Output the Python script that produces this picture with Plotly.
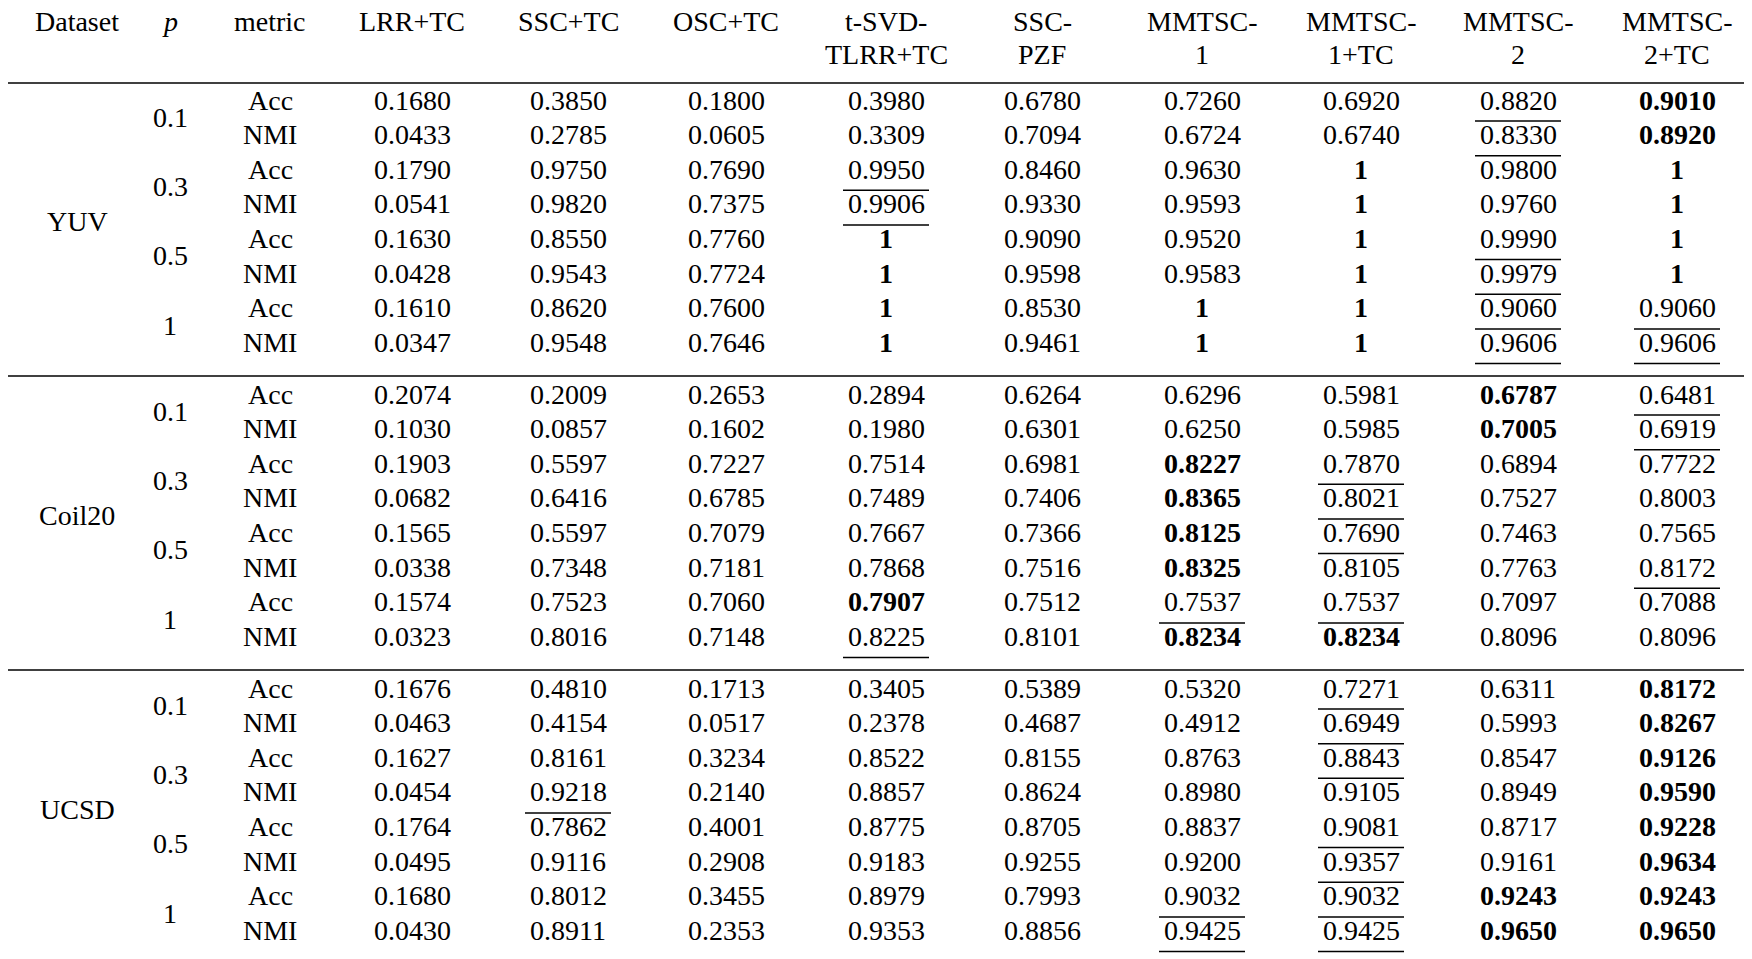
import plotly.graph_objects as go

methods = ["LRR+TC", "SSC+TC", "OSC+TC", "t-SVD-<br>TLRR+TC", "SSC-<br>PZF", "MMTSC-<br>1", "MMTSC-<br>1+TC", "MMTSC-<br>2", "MMTSC-<br>2+TC"]
datasets = ["YUV", "Coil20", "UCSD"]
p_values = ["0.1", "0.3", "0.5", "1"]
metrics = ["Acc", "NMI"]

yuv = [
    [0.1680, 0.3850, 0.1800, 0.3980, 0.6780, 0.7260, 0.6920, 0.8820, 0.9010],
    [0.0433, 0.2785, 0.0605, 0.3309, 0.7094, 0.6724, 0.6740, 0.8330, 0.8920],
    [0.1790, 0.9750, 0.7690, 0.9950, 0.8460, 0.9630, 1, 0.9800, 1],
    [0.0541, 0.9820, 0.7375, 0.9906, 0.9330, 0.9593, 1, 0.9760, 1],
    [0.1630, 0.8550, 0.7760, 1, 0.9090, 0.9520, 1, 0.9990, 1],
    [0.0428, 0.9543, 0.7724, 1, 0.9598, 0.9583, 1, 0.9979, 1],
    [0.1610, 0.8620, 0.7600, 1, 0.8530, 1, 1, 0.9060, 0.9060],
    [0.0347, 0.9548, 0.7646, 1, 0.9461, 1, 1, 0.9606, 0.9606],
]
coil20 = [
    [0.2074, 0.2009, 0.2653, 0.2894, 0.6264, 0.6296, 0.5981, 0.6787, 0.6481],
    [0.1030, 0.0857, 0.1602, 0.1980, 0.6301, 0.6250, 0.5985, 0.7005, 0.6919],
    [0.1903, 0.5597, 0.7227, 0.7514, 0.6981, 0.8227, 0.7870, 0.6894, 0.7722],
    [0.0682, 0.6416, 0.6785, 0.7489, 0.7406, 0.8365, 0.8021, 0.7527, 0.8003],
    [0.1565, 0.5597, 0.7079, 0.7667, 0.7366, 0.8125, 0.7690, 0.7463, 0.7565],
    [0.0338, 0.7348, 0.7181, 0.7868, 0.7516, 0.8325, 0.8105, 0.7763, 0.8172],
    [0.1574, 0.7523, 0.7060, 0.7907, 0.7512, 0.7537, 0.7537, 0.7097, 0.7088],
    [0.0323, 0.8016, 0.7148, 0.8225, 0.8101, 0.8234, 0.8234, 0.8096, 0.8096],
]
ucsd = [
    [0.1676, 0.4810, 0.1713, 0.3405, 0.5389, 0.5320, 0.7271, 0.6311, 0.8172],
    [0.0463, 0.4154, 0.0517, 0.2378, 0.4687, 0.4912, 0.6949, 0.5993, 0.8267],
    [0.1627, 0.8161, 0.3234, 0.8522, 0.8155, 0.8763, 0.8843, 0.8547, 0.9126],
    [0.0454, 0.9218, 0.2140, 0.8857, 0.8624, 0.8980, 0.9105, 0.8949, 0.9590],
    [0.1764, 0.7862, 0.4001, 0.8775, 0.8705, 0.8837, 0.9081, 0.8717, 0.9228],
    [0.0495, 0.9116, 0.2908, 0.9183, 0.9255, 0.9200, 0.9357, 0.9161, 0.9634],
    [0.1680, 0.8012, 0.3455, 0.8979, 0.7993, 0.9032, 0.9032, 0.9243, 0.9243],
    [0.0430, 0.8911, 0.2353, 0.9353, 0.8856, 0.9425, 0.9425, 0.9650, 0.9650],
]
# marks: b = best (bold), u = second best (underlined)
yuv_marks = [
    "-------ub", "-------ub", "---u--b-b", "---u--b-b",
    "---b--bub", "---b--bub", "---b-bbuu", "---b-bbuu",
]
coil20_marks = [
    "-------bu", "-------bu", "-----bu--", "-----bu--",
    "-----bu--", "-----b--u", "---b-uu--", "---u-bb--",
]
ucsd_marks = [
    "------u-b", "------u-b", "------u-b", "-u------b",
    "------u-b", "------u-b", "-----uubb", "-----uubb",
]

tables = [yuv, coil20, ucsd]
marks = [yuv_marks, coil20_marks, ucsd_marks]

W, H = 1752, 959
FONT = "Liberation Serif, Times New Roman, DejaVu Serif, serif"
FS = 28
col_x = [69, 162, 262, 404, 560, 718, 878, 1034, 1194, 1353, 1510, 1669]
drow = 34.65
rules = [(75, 1.6), (368, 1.6), (662, 1.6), (954, 3.2)]
DY = -6

fig = go.Figure()
ann = []
shapes = []

def txt(x, y, s, bold=False):
    ann.append(dict(x=x, y=y + DY, text=("<b>%s</b>" % s) if bold else s, showarrow=False,
                    xanchor="center", yanchor="middle",
                    font=dict(family=FONT, size=FS, color="black")))

heads = ["Dataset", "<i>p</i>", "metric"] + methods
for i, h in enumerate(heads):
    if "<br>" in h:
        a, b = h.split("<br>")
        txt(col_x[i], 19, a)
        txt(col_x[i], 52, b)
    else:
        txt(col_x[i], 19, h)

def fmt(v):
    return "1" if v == 1 else "%.4f" % v

group_starts = [98, 392, 686]
for g, (name, tab, mk) in enumerate(zip(datasets, tables, marks)):
    y0 = group_starts[g]
    txt(col_x[0], y0 + drow * 3.5, name)
    for k, pv in enumerate(p_values):
        txt(col_x[1], y0 + drow * (2 * k + 0.5), pv)
    for r, row in enumerate(tab):
        y = y0 + drow * r
        txt(col_x[2], y, metrics[r % 2])
        for c, v in enumerate(row):
            m = mk[r][c]
            s = fmt(v)
            txt(col_x[3 + c], y, s, bold=(m == "b"))
            if m == "u":
                w = 86 if len(s) > 1 else 12
                shapes.append(dict(type="line", x0=col_x[3 + c] - w / 2, x1=col_x[3 + c] + w / 2,
                                   y0=y + 15, y1=y + 15, line=dict(color="black", width=1.5)))

for y, w in rules:
    shapes.append(dict(type="line", x0=0, x1=1750, y0=y, y1=y, line=dict(color="black", width=w)))

fig.update_layout(width=W, height=H, margin=dict(l=0, r=0, t=0, b=0),
                  paper_bgcolor="white", plot_bgcolor="white",
                  xaxis=dict(range=[0, W], visible=False, fixedrange=True),
                  yaxis=dict(range=[H, 0], visible=False, fixedrange=True),
                  annotations=ann, shapes=shapes, showlegend=False)
fig.write_html("out.html")
